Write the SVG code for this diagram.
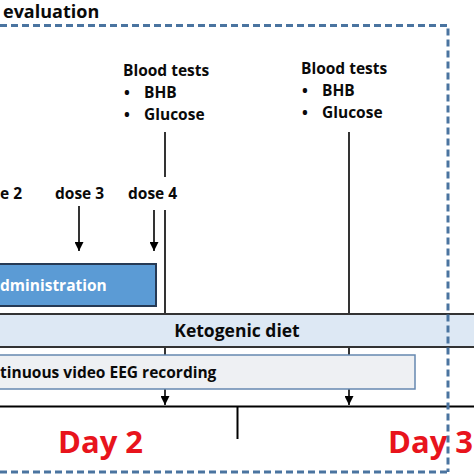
<svg xmlns="http://www.w3.org/2000/svg" width="474" height="474" viewBox="0 0 474 474">
<defs>
<marker id="ah" markerWidth="9" markerHeight="9" refX="9" refY="4.5" orient="auto" markerUnits="userSpaceOnUse" viewBox="0 0 9 9">
<path d="M0,0 L9,4.5 L0,9 Z" fill="#000"/>
</marker>
<style>
text{font-family:"Open Sans","Liberation Sans",sans-serif;font-weight:bold;fill:#0a0a0a}
.lbl{font-size:15.5px}
.day{font-size:31px;fill:#e8141c}
.ln{stroke:#000;stroke-width:1.6;fill:none}
</style>
</defs>
<rect width="474" height="474" fill="#fff"/>
<g id="connectors">
<line class="ln" x1="165" y1="132" x2="165" y2="177"/>
<line class="ln" x1="165" y1="210" x2="165" y2="405" marker-end="url(#ah)"/>
<line class="ln" x1="349" y1="132" x2="349" y2="405" marker-end="url(#ah)"/>
<line class="ln" x1="79" y1="206" x2="79" y2="251" marker-end="url(#ah)"/>
<line class="ln" x1="154" y1="210" x2="154" y2="251" marker-end="url(#ah)"/>
<line stroke="#000" stroke-width="2" x1="0" y1="406.5" x2="474" y2="406.5"/>
<line stroke="#000" stroke-width="2" x1="237.5" y1="406" x2="237.5" y2="439"/>
</g>
<g id="title"><text x="3" y="18" style="font-size:18px">evaluation</text></g>
<g id="blood1">
<text class="lbl" x="123" y="76">Blood tests</text>
<text class="lbl" x="124" y="98">•</text><text class="lbl" x="144" y="98">BHB</text>
<text class="lbl" x="124" y="120">•</text><text class="lbl" x="144" y="120">Glucose</text>
</g>
<g id="blood2">
<text class="lbl" x="301" y="74">Blood tests</text>
<text class="lbl" x="302" y="96">•</text><text class="lbl" x="322" y="96">BHB</text>
<text class="lbl" x="302" y="118">•</text><text class="lbl" x="322" y="118">Glucose</text>
</g>
<g id="dose2"><text class="lbl" x="0" y="199">e 2</text></g>
<g id="dose3"><text class="lbl" x="55" y="199">dose 3</text></g>
<g id="dose4"><text class="lbl" x="128" y="199">dose 4</text></g>
<g id="administration">
<rect x="-5" y="264" width="161" height="42" fill="#5b9bd5" stroke="#263a55" stroke-width="2"/>
<text class="lbl" x="0" y="291" style="fill:#fff">dministration</text>
</g>
<g id="ketogenic">
<rect x="-5" y="314" width="484" height="33" fill="#dde8f4" stroke="#333" stroke-width="2"/>
<text x="237" y="337" text-anchor="middle" style="font-size:17.5px">Ketogenic diet</text>
</g>
<g id="eeg">
<rect x="-5" y="355" width="420" height="34" fill="#eef0f3" stroke="#6688b0" stroke-width="1.5"/>
<text class="lbl" x="0" y="378">tinuous video EEG recording</text>
</g>
<g id="day2"><text class="day" x="58" y="453">Day 2</text></g>
<g id="day3"><text class="day" x="388" y="453">Day 3</text></g>
<g id="evalbox">
<path d="M0,25.5 H448 V472" fill="none" stroke="#4a74a0" stroke-width="3" stroke-dasharray="7,4"/>
<path d="M0,472 H448" fill="none" stroke="#4a74a0" stroke-width="3" stroke-dasharray="7,4"/>
</g>
</svg>
